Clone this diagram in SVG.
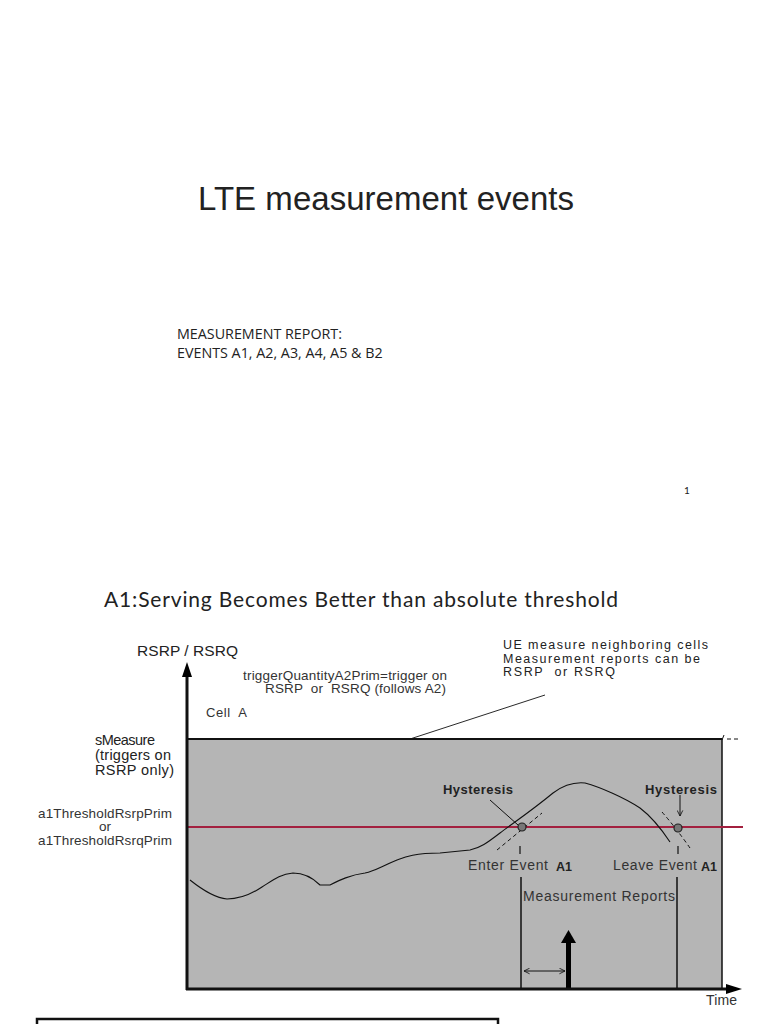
<svg xmlns="http://www.w3.org/2000/svg" width="768" height="1024" viewBox="0 0 768 1024">
<style>
.t{font-family:"Liberation Sans",Arial,sans-serif;fill:#222}
.c{font-family:Lato,"Open Sans","Liberation Sans",sans-serif;fill:#222}
.o{font-family:"Open Sans","Liberation Sans",sans-serif;fill:#222}
.b{font-weight:bold}
.g{fill:#333}
.ln{stroke:#111;fill:none}
</style>
<defs>
<marker id="oa" viewBox="0 0 10 10" refX="9" refY="5" markerWidth="7" markerHeight="7" orient="auto-start-reverse"><path d="M1,1 L9,5 L1,9" fill="none" stroke="#111" stroke-width="1.2"/></marker>
</defs>
<rect width="768" height="1024" fill="#fff"/>
<g id="title"><text class="t" x="386" y="210" font-size="33" text-anchor="middle" textLength="376" fill="#000">LTE measurement events</text></g>
<g id="subtitle">
<text class="o" x="177" y="339" font-size="14.3">MEASUREMENT REPORT:</text>
<text class="o" x="177" y="358" font-size="14.3">EVENTS A1, A2, A3, A4, A5 &amp; B2</text>
</g>
<g id="pagenum"><text class="c" x="684" y="494" font-size="10">1</text></g>
<g id="heading"><text class="c" x="104" y="607" font-size="21" textLength="514" fill="#111">A1:Serving Becomes Better than absolute threshold</text></g>

<g id="chart">
<rect x="187" y="739" width="535" height="251" fill="#b5b5b5"/>
<line class="ln" x1="187" y1="739" x2="722" y2="739" stroke-width="2"/>
<line class="ln" x1="722" y1="739" x2="722" y2="990" stroke-width="1.5"/>
<line class="ln" x1="722" y1="740" x2="724" y2="735" stroke-width="1"/>
<line class="ln" x1="727" y1="739" x2="741" y2="739" stroke-width="1" stroke-dasharray="4,3"/>
<line x1="187" y1="827" x2="743" y2="827" stroke="#a3203f" stroke-width="2"/>
<path class="ln" stroke-width="1.1" d="M190,880 C200,888 215,898 227,899 C240,899 253,893 262,887 C273,880 280,874 293,873 C303,873 312,877 320,885 L330,885 C340,880 350,875 365,873 C375,871 380,867 397,860 C405,857 415,853 440,853 L470,850 C480,848 487,843 500,833 C513,823 530,812 553,793 C565,784 575,782 585,783 C600,787 625,798 640,808 C652,817 662,830 670,842"/>
<path class="ln" stroke-width="1" stroke-dasharray="4,3" d="M497,850 L542,813"/>
<path class="ln" stroke-width="1" stroke-dasharray="4,3" d="M662,812 Q676,828 690,848"/>
<line class="ln" x1="490" y1="800" x2="518" y2="825" stroke-width="1"/>
<line class="ln" x1="680" y1="795" x2="680" y2="816" stroke-width="1" marker-end="url(#oa)"/>
<circle cx="522" cy="827" r="4" fill="#777" stroke="#222" stroke-width="1.2"/>
<circle cx="678" cy="828" r="4" fill="#777" stroke="#222" stroke-width="1.2"/>
<line class="ln" x1="520" y1="846" x2="520" y2="854" stroke-width="1.2"/>
<line class="ln" x1="678" y1="846" x2="678" y2="854" stroke-width="1.2"/>
<line class="ln" x1="521" y1="877" x2="521" y2="990" stroke-width="1.5"/>
<line class="ln" x1="677" y1="877" x2="677" y2="990" stroke-width="1.5"/>
<line class="ln" x1="524" y1="971" x2="565" y2="971" stroke-width="1" marker-start="url(#oa)" marker-end="url(#oa)"/>
<rect x="566" y="941" width="5" height="49" fill="#000"/>
<path d="M561,943 L568.5,930 L576,943 z" fill="#000"/>
</g>

<g id="axes">
<line class="ln" x1="187" y1="990" x2="187" y2="675" stroke-width="3"/>
<path d="M182,677 L187,662 L192,677 z" fill="#000"/>
<line class="ln" x1="186" y1="989" x2="728" y2="989" stroke-width="3"/>
<path d="M726,984 L742,989 L726,994 z" fill="#000"/>
</g>

<g id="connectors">
<line class="ln" x1="410" y1="739" x2="545" y2="695" stroke-width="0.9"/>
</g>

<g id="labels">
<text class="t" x="137" y="656" font-size="15.5" textLength="101">RSRP / RSRQ</text>
<text class="t g" x="243" y="680" font-size="13.5" textLength="204">triggerQuantityA2Prim=trigger on</text>
<text class="t g" x="265" y="693" font-size="13.5" textLength="181" xml:space="preserve">RSRP  or  RSRQ (follows A2)</text>
<text class="t" x="503" y="649" font-size="12.5" textLength="205">UE measure neighboring cells</text>
<text class="t" x="503" y="662.5" font-size="12.5" textLength="197">Measurement reports can be</text>
<text class="t" x="503" y="676" font-size="12.5" textLength="112" xml:space="preserve">RSRP  or RSRQ</text>
<text class="t g" x="206" y="717" font-size="13" textLength="41" xml:space="preserve">Cell  A</text>
<text class="t" x="95" y="745" font-size="14.5" textLength="60">sMeasure</text>
<text class="t" x="95" y="760" font-size="14.5" textLength="76">(triggers on</text>
<text class="t" x="95" y="775" font-size="14.5" textLength="79">RSRP only)</text>
<text class="t g" x="38" y="818" font-size="13.5" textLength="134">a1ThresholdRsrpPrim</text>
<text class="t g" x="105" y="831" font-size="13.5" text-anchor="middle">or</text>
<text class="t g" x="38" y="845" font-size="13.5" textLength="134">a1ThresholdRsrqPrim</text>
<text class="t b" x="443" y="794" font-size="13" textLength="70">Hysteresis</text>
<text class="t b" x="645" y="794" font-size="13" textLength="72">Hysteresis</text>
<text class="t g" x="468" y="870" font-size="14" textLength="80">Enter Event</text>
<text class="t b" x="556" y="871" font-size="12.5">A1</text>
<text class="t g" x="613" y="870" font-size="14" textLength="84">Leave Event</text>
<text class="t b" x="701" y="871" font-size="12.5">A1</text>
<text class="t g" x="523" y="901" font-size="14" textLength="152">Measurement Reports</text>
<text class="t g" x="706" y="1005" font-size="14" textLength="31">Time</text>
</g>

<g id="bottombox">
<rect x="37" y="1019" width="461" height="20" fill="none" stroke="#111" stroke-width="2.5"/>
</g>
</svg>
